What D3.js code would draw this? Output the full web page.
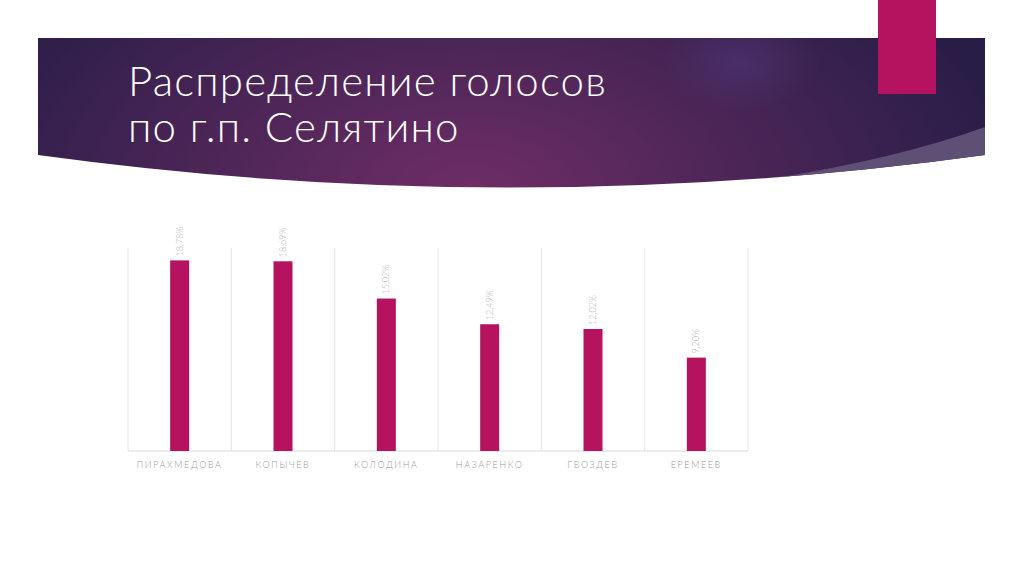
<!DOCTYPE html>
<html>
<head>
<meta charset="utf-8">
<script src="https://cdn.jsdelivr.net/npm/d3@7"></script>
<style>
  body { margin: 0; background: #fff; }
  svg { display: block; }
</style>
</head>
<body>
<div id="slide"></div>
<script>
// Chart data
const candidates = ["ПИРАХМЕДОВА", "КОПЫЧЕВ", "КОЛОДИНА", "НАЗАРЕНКО", "ГВОЗДЕВ", "ЕРЕМЕЕВ"];
const shares = [18.78, 18.69, 15.02, 12.49, 12.02, 9.20];
const shareLabels = ["18,78%", "18,69%", "15,02%", "12,49%", "12,02%", "9,20%"];
const titleLines = ["Распределение голосов", "по г.п. Селятино"];

const W = 1024, H = 574;
const svg = d3.select("#slide").append("svg")
    .attr("width", W)
    .attr("height", H);

const defs = svg.append("defs");

// Banner gradient: dark indigo at edges, warmer magenta glow near the bottom middle
const grad = defs.append("radialGradient")
    .attr("id", "bannerGrad")
    .attr("gradientUnits", "userSpaceOnUse")
    .attr("cx", 470).attr("cy", 190).attr("r", 560)
    .attr("gradientTransform", "translate(470,190) scale(1,0.55) translate(-470,-190)");
grad.append("stop").attr("offset", "0%").attr("stop-color", "#6e2d66");
grad.append("stop").attr("offset", "45%").attr("stop-color", "#4e2658");
grad.append("stop").attr("offset", "100%").attr("stop-color", "#271d47");

const glow = defs.append("radialGradient").attr("id", "glow");
glow.append("stop").attr("offset", "0%").attr("stop-color", "#4f3577").attr("stop-opacity", 0.6);
glow.append("stop").attr("offset", "100%").attr("stop-color", "#4f3577").attr("stop-opacity", 0);

// Banner shape
const bx0 = 38, bx1 = 985, by0 = 38, byEdge = 155, byMid = 220;
const bannerPath = `M${bx0},${by0} L${bx1},${by0} L${bx1},${byEdge} Q${(bx0 + bx1) / 2},${byMid} ${bx0},${byEdge} Z`;

defs.append("clipPath").attr("id", "bannerClip")
    .append("path").attr("d", bannerPath);

svg.append("path")
    .attr("d", bannerPath)
    .attr("fill", "url(#bannerGrad)");

const banner = svg.append("g").attr("clip-path", "url(#bannerClip)");

banner.append("ellipse")
    .attr("cx", 740).attr("cy", 62).attr("rx", 80).attr("ry", 50)
    .attr("fill", "url(#glow)");

// Lavender wedge at lower right
banner.append("path")
    .attr("d", `M${bx1},127 Q880,165 720,186 L720,240 L${bx1},240 Z`)
    .attr("fill", "#5e5074");

// Magenta tab
svg.append("rect")
    .attr("x", 878).attr("y", 0)
    .attr("width", 58).attr("height", 94)
    .attr("fill", "#b5135f");

// Title
svg.append("text")
    .attr("x", 128)
    .attr("y", 96)
    .attr("fill", "#ffffff")
    .style("font-family", "Lato, 'Open Sans', sans-serif")
    .style("font-weight", 300)
    .style("font-size", "42px")
    .style("letter-spacing", "1.2px")
    .selectAll("tspan")
    .data(titleLines)
    .enter()
    .append("tspan")
    .attr("x", 128)
    .attr("dy", (d, i) => i === 0 ? 0 : 46)
    .text(d => d);

// Chart area
const chart = { left: 128, right: 748, top: 248, bottom: 451 };

const x = d3.scaleBand()
    .domain(candidates)
    .range([chart.left, chart.right])
    .paddingInner(0)
    .paddingOuter(0);

const y = d3.scaleLinear()
    .domain([0, 20])
    .range([chart.bottom, chart.top]);

// Vertical category separators
const bounds = candidates.map(c => x(c)).concat([chart.right]);
svg.append("g")
    .selectAll("line")
    .data(bounds)
    .enter()
    .append("line")
    .attr("x1", d => d).attr("x2", d => d)
    .attr("y1", chart.top).attr("y2", chart.bottom)
    .attr("stroke", "#e6e6e6")
    .attr("stroke-width", 1);

// Baseline
svg.append("line")
    .attr("x1", chart.left).attr("x2", chart.right)
    .attr("y1", chart.bottom).attr("y2", chart.bottom)
    .attr("stroke", "#d9d9d9");

// Bars
const barW = 19;
svg.append("g")
    .selectAll("rect")
    .data(shares)
    .enter()
    .append("rect")
    .attr("x", (d, i) => x(candidates[i]) + x.bandwidth() / 2 - barW / 2)
    .attr("y", d => y(d))
    .attr("width", barW)
    .attr("height", d => chart.bottom - y(d))
    .attr("fill", "#b5135f");

// Value labels, rotated
svg.append("g")
    .selectAll("text")
    .data(shares)
    .enter()
    .append("text")
    .attr("transform", (d, i) => `translate(${x(candidates[i]) + x.bandwidth() / 2 + 3},${y(d) - 4}) rotate(-90)`)
    .attr("text-anchor", "start")
    .attr("fill", "#b0b0b0")
    .style("font-family", "Lato, 'Open Sans', sans-serif")
    .style("font-weight", 300)
    .style("font-size", "9px")
    .text((d, i) => shareLabels[i]);

// Category labels
svg.append("g")
    .selectAll("text")
    .data(candidates)
    .enter()
    .append("text")
    .attr("x", d => x(d) + x.bandwidth() / 2)
    .attr("y", 468)
    .attr("text-anchor", "middle")
    .attr("fill", "#999999")
    .style("font-family", "Lato, 'Open Sans', sans-serif")
    .style("font-weight", 300)
    .style("font-size", "9px")
    .style("letter-spacing", "1.6px")
    .text(d => d);
</script>
</body>
</html>
